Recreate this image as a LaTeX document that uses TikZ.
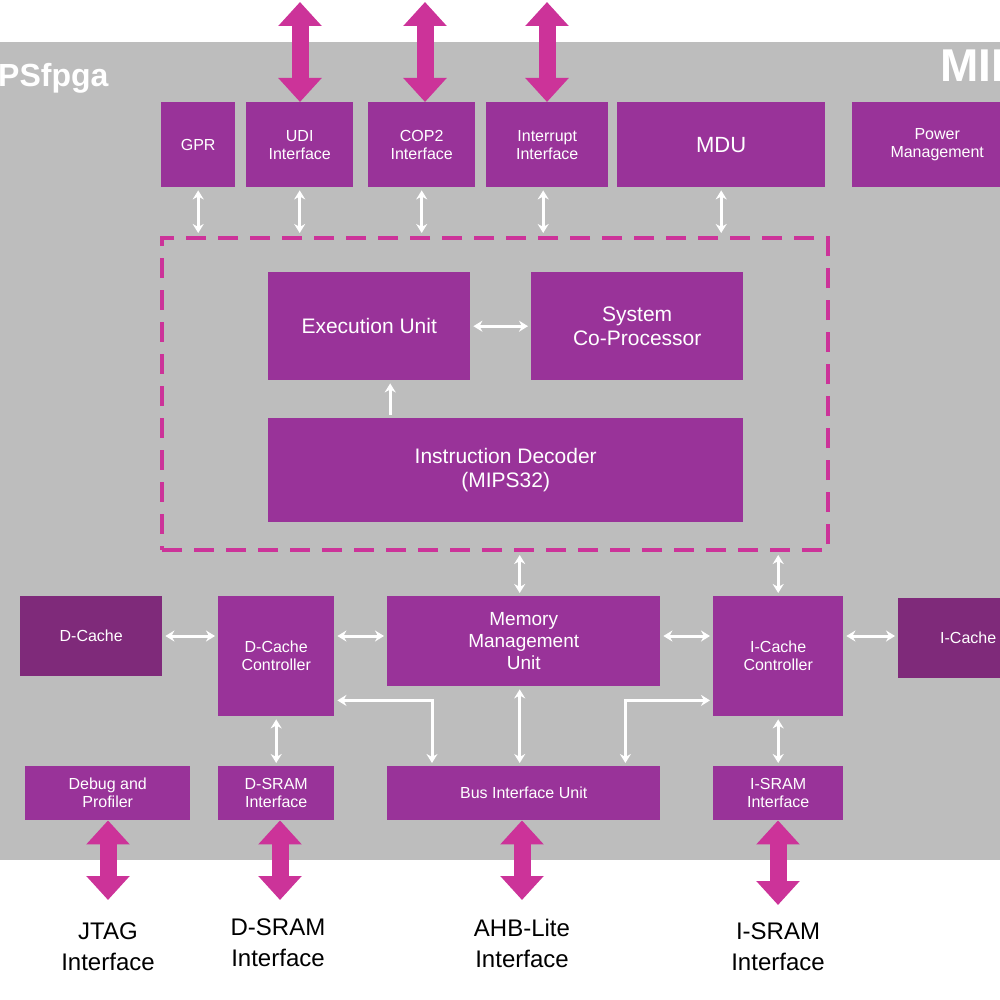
\documentclass[tikz,border=0pt]{standalone}
\usepackage{fontspec}
\setmainfont{Liberation Sans}
\usetikzlibrary{arrows.meta}
\definecolor{bggray}{HTML}{BDBDBD}
\definecolor{boxpurple}{HTML}{993399}
\definecolor{darkpurple}{HTML}{7F2A7A}
\definecolor{busarrow}{HTML}{CC3399}
\tikzset{
  blk/.style={fill=boxpurple,text=white,anchor=north west,inner sep=0pt,align=center,
    font=\fontsize{16}{18}\selectfont},
  wa/.style={draw=white,line width=3pt,{Stealth[length=9pt,width=11pt]}-{Stealth[length=9pt,width=11pt]},shorten <=3pt,shorten >=3pt},
  ba/.style={draw=busarrow,line width=17pt,{Triangle[length=24pt,width=42pt]}-{Triangle[length=24pt,width=42pt]}},
  lbl/.style={font=\fontsize{24}{31}\selectfont,align=center}
}
\begin{document}
\begin{tikzpicture}[x=1pt,y=-1pt]
    \useasboundingbox (0,0) rectangle (1000,1000);
    \clip (0,0) rectangle (1000,1000);
    \fill [bggray] (0,42) rectangle (1000,860);
    \node [anchor=east,text=white,font=\bfseries\fontsize{32}{34}\selectfont] at (112,78) {MIPSfpga};
    \node [anchor=west,text=white,font=\bfseries\fontsize{46}{48}\selectfont] at (937,70) {MIPSfpga};
    % top row
    \node [blk,minimum width=74,minimum height=85] (gpr) at (161,102) {GPR};
    \node [blk,minimum width=107,minimum height=85] (udi) at (246,102) {UDI\\Interface};
    \node [blk,minimum width=107,minimum height=85] (cop) at (368,102) {COP2\\Interface};
    \node [blk,minimum width=122,minimum height=85] (irq) at (486,102) {Interrupt\\Interface};
    \node [blk,minimum width=208,minimum height=85,font=\fontsize{22}{24}\selectfont] (mdu) at (617,102) {MDU};
    \node [blk,minimum width=170,minimum height=85,anchor=north west] (pwr) at (852,102) {Power\hspace{22pt}\\Management\hspace{22pt}};
    % core
    \node [draw=busarrow,line width=4pt,dash pattern=on 20pt off 12pt,anchor=north west,
        minimum width=666,minimum height=312] (core) at (160,236) {};
    \node [blk,minimum width=202,minimum height=108,font=\fontsize{21}{24}\selectfont] (exe) at (268,272) {Execution Unit};
    \node [blk,minimum width=212,minimum height=108,font=\fontsize{21}{24}\selectfont] (scp) at (531,272) {System\\Co-Processor};
    \node [blk,minimum width=475,minimum height=104,font=\fontsize{21}{24}\selectfont] (dec) at (268,418) {Instruction Decoder\\(MIPS32)};
    % middle row
    \node [blk,fill=darkpurple,minimum width=142,minimum height=80] (dc) at (20,596) {D-Cache};
    \node [blk,minimum width=116,minimum height=120] (dcc) at (218,596) {D-Cache\\Controller};
    \node [blk,minimum width=273,minimum height=90,font=\fontsize{19}{22}\selectfont] (mmu) at (387,596) {Memory\\Management\\Unit};
    \node [blk,minimum width=130,minimum height=120] (icc) at (713,596) {I-Cache\\Controller};
    \node [blk,fill=darkpurple,minimum width=142,minimum height=80] (ic) at (898,598) {\hspace{-2pt}I-Cache};
    % bottom row
    \node [blk,minimum width=165,minimum height=54] (dbg) at (25,766) {Debug and\\Profiler};
    \node [blk,minimum width=116,minimum height=54] (dsr) at (218,766) {D-SRAM\\Interface};
    \node [blk,minimum width=273,minimum height=54] (biu) at (387,766) {Bus Interface Unit};
    \node [blk,minimum width=130,minimum height=54] (isr) at (713,766) {I-SRAM\\Interface};
    % white connectors
    \foreach \n in {gpr,udi,cop,mdu} {
        \draw [wa] (\n.south) -- (\n.south |- core.north);
    }
    \draw [wa] ([xshift=-4pt]irq.south) -- ([xshift=-4pt]irq.south |- core.north);
    \draw [wa] (exe) -- (scp);
    \draw [wa,{Stealth[length=9pt,width=11pt]}-] ([xshift=21pt]exe.south) -- ([xshift=21pt]exe.south |- dec.north);
    \draw [wa] ([xshift=-4pt]mmu.north) -- ([xshift=-4pt]mmu.north |- core.south);
    \draw [wa] (icc.north) -- (icc.north |- core.south);
    \draw [wa] (dc.east |- 0,636) -- (dcc.west |- 0,636);
    \draw [wa] (dcc.east |- 0,636) -- (mmu.west |- 0,636);
    \draw [wa] (mmu.east |- 0,636) -- (icc.west |- 0,636);
    \draw [wa] (icc.east |- 0,636) -- (ic.west |- 0,636);
    \draw [wa] (dcc) -- (dsr);
    \draw [wa] (icc) -- (isr);
    \draw [wa] ([xshift=-4pt]mmu.south) -- ([xshift=-4pt]biu.north);
    \draw [wa] ([yshift=16pt]dcc.south east) -| ([xshift=45pt]biu.north west);
    \draw [wa] ([yshift=16pt]icc.south west) -| ([xshift=-35pt]biu.north east);
    % bus arrows
    \foreach \n/\x in {udi/300,cop/425,irq/547} {
        \coordinate (top\n) at (\x,2);
        \draw [ba] (top\n) -- (top\n |- \n.north);
    }
    \node [lbl] (jtag) at (108,947) {JTAG\\Interface};
    \node [lbl] (dsrl) at (278,943) {D-SRAM\\Interface};
    \node [lbl] (ahb) at (522,943) {AHB-Lite\\Interface};
    \node [lbl] (isrl) at (778,947) {I-SRAM\\Interface};
    \coordinate (jtagend) at (108,900);
    \coordinate (dsrend) at (280,900);
    \coordinate (ahbend) at (522,900);
    \coordinate (isrend) at (778,905);
    \draw [ba] (jtagend |- dbg.south) -- (jtagend);
    \draw [ba] (dsrend |- dsr.south) -- (dsrend);
    \draw [ba] (ahbend |- biu.south) -- (ahbend);
    \draw [ba] (isrend |- isr.south) -- (isrend);
\end{tikzpicture}
\end{document}
